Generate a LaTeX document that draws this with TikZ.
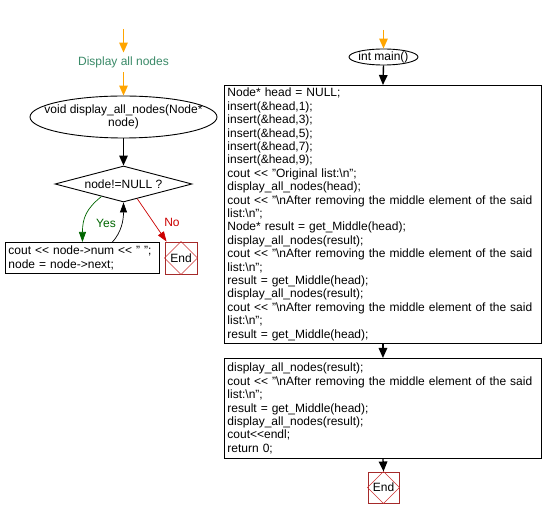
\documentclass[tikz,border=0pt]{standalone}
\usepackage{fontspec}
\setmainfont{Liberation Sans}
\usetikzlibrary{shapes.geometric,arrows.meta,calc}
\definecolor{orangeA}{HTML}{FFA500}
\definecolor{tealtext}{HTML}{3A8A68}
\definecolor{yesgreen}{HTML}{006600}
\definecolor{nored}{HTML}{CC0000}
\definecolor{endbrown}{HTML}{A52A2A}
\definecolor{enddia}{HTML}{CC3333}
\begin{document}
\begin{tikzpicture}[x=1pt,y=-1pt,
  font=\fontsize{12}{13.4}\selectfont,
  line width=0.9pt,
  arr/.style={-{Triangle[length=10pt,width=8.5pt]}, line width=1.4pt},
  thinarr/.style={-{Triangle[length=10pt,width=7pt]}, line width=0.7pt},
  box/.style={draw, anchor=north west, inner xsep=3pt, inner ysep=0pt, align=left},
  endbox/.style={draw=endbrown, minimum size=32pt, inner sep=0pt},
  oval/.style={ellipse, draw, inner sep=0pt}]
\useasboundingbox (0,0) rectangle (544,518);
\fill[white] (0,0) rectangle (544,518);

% ---------- left column ----------
\coordinate (s1) at (123.5,29);
\node[text=tealtext, inner sep=0pt, minimum height=19pt] (disp) at (123.5,62.5) {Display all nodes};
\node[oval, minimum width=187pt, minimum height=42pt,
      label={[align=center, inner sep=0pt]center:void display\_all\_nodes(Node*\\node)}] (fn) at (123.5,117) {};
\node[diamond, draw, minimum width=137pt, minimum height=36pt, inner sep=0pt, aspect=3.8] (dec) at (123.5,184) {node!=NULL ?};
\node[box, minimum width=154pt, minimum height=31pt, text width=148pt,
      font=\fontsize{12}{14}\selectfont] (body) at (5,242) {cout <{}< node->num <{}< " ";\\node = node->next;};
\node[endbox] (end1) at (181,258) {End};
\draw[enddia, line width=0.6pt] (end1.north) -- (end1.east) -- (end1.south) -- (end1.west) -- cycle;

\draw[arr, orangeA] (s1) -- (disp.north);
\draw[arr, orangeA] (disp.south) -- (fn.north);
\draw[arr] (fn.south) -- (dec.north);
\draw[thinarr, yesgreen] ($(dec.west)!0.68!(dec.south)$) .. controls +(-15,12) and +(0,-24) .. (body.north);
\draw[thinarr, black] ($(body.north)+(30,0)$) .. controls +(9,-10) and +(0,18) .. (dec.south);
\draw[thinarr, nored] ($(dec.south)!0.2!(dec.east)$) -- ($(end1.north west)+(2,0)$);
\node[text=yesgreen, inner sep=0pt] (yes) at (106,223) {Yes};
\node[text=nored, inner sep=0pt] (no) at (172,222) {No};

% ---------- right column ----------
\coordinate (s2) at (383.5,30);
\node[oval, minimum width=69pt, minimum height=16pt,
      label={[inner sep=0pt]center:int main()}] (main) at (383.5,57) {};
\node[box, minimum width=317pt, minimum height=258pt, text width=311pt] (b1) at (224,85) {%
Node* head = NULL;\\
insert(\&head,1);\\
insert(\&head,3);\\
insert(\&head,5);\\
insert(\&head,7);\\
insert(\&head,9);\\
cout <{}< "Original list:\textbackslash n";\\
display\_all\_nodes(head);\\
cout <{}< "\textbackslash nAfter removing the middle element of the said\\
list:\textbackslash n";\\
Node* result = get\_Middle(head);\\
display\_all\_nodes(result);\\
cout <{}< "\textbackslash nAfter removing the middle element of the said\\
list:\textbackslash n";\\
result = get\_Middle(head);\\
display\_all\_nodes(result);\\
cout <{}< "\textbackslash nAfter removing the middle element of the said\\
list:\textbackslash n";\\
result = get\_Middle(head);};
\node[box, minimum width=317pt, minimum height=100pt, text width=311pt] (b2) at (224,358) {%
display\_all\_nodes(result);\\
cout <{}< "\textbackslash nAfter removing the middle element of the said\\
list:\textbackslash n";\\
result = get\_Middle(head);\\
display\_all\_nodes(result);\\
cout<{}<endl;\\
return 0;};
\node[endbox, minimum size=31pt] (end2) at (383.5,487.5) {End};
\draw[enddia, line width=0.6pt] (end2.north) -- (end2.east) -- (end2.south) -- (end2.west) -- cycle;

\draw[arr, orangeA] (s2) -- (main.north);
\draw[arr] (main.south) -- (b1.north);
\draw[arr] (b1.south) -- (b2.north);
\draw[arr] (b2.south) -- (end2.north);
\end{tikzpicture}
\end{document}
